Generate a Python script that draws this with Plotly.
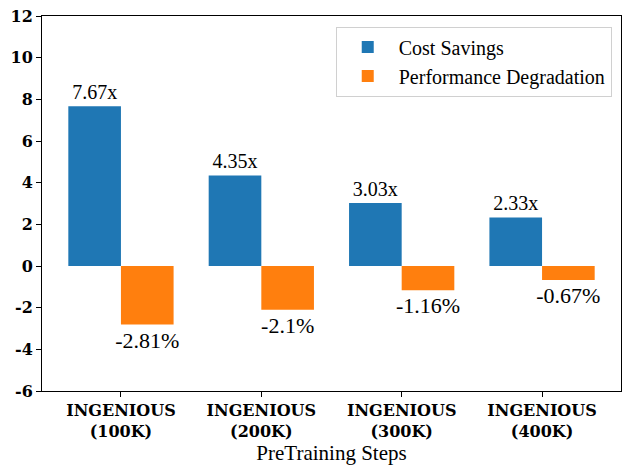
import plotly.graph_objects as go

# values
steps = ["INGENIOUS<br>(100K)", "INGENIOUS<br>(200K)", "INGENIOUS<br>(300K)", "INGENIOUS<br>(400K)"]
cost_savings = [7.67, 4.35, 3.03, 2.33]
perf_degradation = [-2.81, -2.1, -1.16, -0.67]
cost_labels = ["7.67x", "4.35x", "3.03x", "2.33x"]
perf_labels = ["-2.81%", "-2.1%", "-1.16%", "-0.67%"]
y_ticks = [-6, -4, -2, 0, 2, 4, 6, 8, 10, 12]

FONT = "Liberation Serif"
BOLD_FONT = "DejaVu Serif"  # only the bold face of DejaVu Serif is installed

fig = go.Figure()
fig.add_trace(go.Bar(
    x=steps, y=cost_savings, name="Cost Savings",
    marker=dict(color="#1f77b4", line=dict(width=0)),
    text=cost_labels, textposition="outside", constraintext="none",
    textfont=dict(family=FONT, size=20, color="black"),
    cliponaxis=False,
))
fig.add_trace(go.Bar(
    x=steps, y=perf_degradation, name="Performance Degradation",
    marker=dict(color="#ff7f0e", line=dict(width=0)),
    text=perf_labels, textposition="outside", constraintext="none",
    textfont=dict(family=FONT, size=22, color="black"),
    cliponaxis=False,
))

# page body adds an 8px offset, margins are set to compensate
fig.update_layout(
    width=630, height=470,
    margin=dict(l=34, r=17, t=8, b=87),
    plot_bgcolor="white", paper_bgcolor="white",
    barmode="group", bargap=0.25, bargroupgap=0,
    font=dict(family=FONT, size=18, color="black"),
    legend=dict(
        x=0.984, y=0.972, xanchor="right", yanchor="top",
        bordercolor="#d0d0d0", borderwidth=1, bgcolor="rgba(255,255,255,0.8)",
        font=dict(family=FONT, size=20), itemwidth=52,
    ),
    xaxis=dict(
        title=dict(text="PreTraining Steps", font=dict(family=FONT, size=21), standoff=2),
        tickfont=dict(family=BOLD_FONT, size=16),
        tickvals=steps, ticktext=["<b>" + s + "</b>" for s in steps],
        ticks="outside", ticklen=5, tickcolor="black",
        showline=True, mirror=True, linecolor="black", linewidth=1,
        range=[-0.5625, 3.5625], automargin=False,
    ),
    yaxis=dict(
        range=[-6, 12],
        tickvals=y_ticks, ticktext=["<b>%d</b>" % v for v in y_ticks],
        tickfont=dict(family=BOLD_FONT, size=16),
        ticks="outside", ticklen=5, tickcolor="black",
        showline=True, mirror=True, linecolor="black", linewidth=1,
        showgrid=False, zeroline=False, automargin=False,
        ticklabeloverflow="allow",
    ),
)

fig.write_html("out.html")
